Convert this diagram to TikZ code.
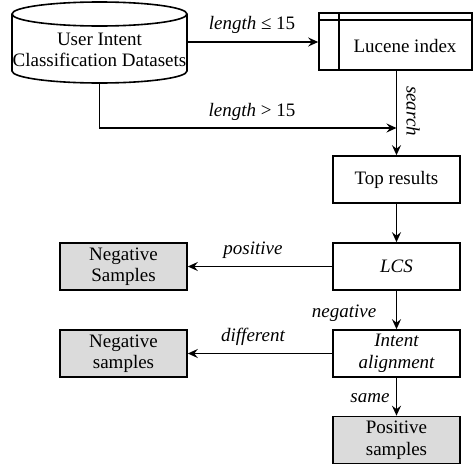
\documentclass[tikz,border=0pt]{standalone}
\usepackage{fontspec}
\setmainfont{Liberation Serif}
\usetikzlibrary{arrows.meta}
\begin{document}
\begin{tikzpicture}[x=1pt,y=-1pt,
  every node/.style={font=\fontsize{19}{21.5}\selectfont},
  line/.style={line width=1.6pt},
  arr/.style={line width=1.6pt,-{Stealth[length=10pt,width=9pt,inset=3.5pt]}},
  box/.style={draw,line width=1.6pt,minimum width=127pt,minimum height=47pt,inner sep=1pt,align=center},
  graybox/.style={box,fill=black!14},
  lbl/.style={inner sep=1pt,font=\fontsize{19}{21.5}\selectfont\itshape}]
\useasboundingbox (0,0) rectangle (474,474);
% cylinder
\draw[line] (99.5,14) ellipse[x radius=87.5,y radius=12];
\draw[line] (12,14) -- (12,71) arc[start angle=180,end angle=0,x radius=87.5,y radius=12] -- (187,14);
\node[align=center,inner sep=0] (db) at (99.5,50) {User Intent\\Classification Datasets};
\coordinate (dbR) at (187,42);
\coordinate (dbB) at (99.5,83);
% lucene
\node[draw,line width=1.6pt,minimum width=153pt,minimum height=57pt,inner sep=0] (lucene) at (395.5,41.5) {};
\draw[line] (319,20) -- (472,20);
\draw[line] (339,13) -- (339,70);
\node (lucenetext) at (405,46) {Lucene index};
% boxes
\node[box] (top) at (396.5,179.5) {Top results};
\node[box] (lcs) at (396.5,266.5) {\itshape LCS};
\node[graybox] (neg1) at (123.5,266.5) {Negative\\Samples};
\node[box] (intent) at (396.5,353.5) {\itshape Intent\\\itshape alignment};
\node[graybox] (neg2) at (123.5,353.5) {Negative\\samples};
\node[graybox] (pos) at (396.5,440) {Positive\\samples};
% connectors
\draw[arr] (dbR) -- (dbR -| lucene.west);
\node[lbl] (l1) at (252,25) {length\upshape\ ≤ 15};
\coordinate (j) at (top.north |- 0,128);
\draw[arr] (dbB) |- (j);
\node[lbl] (l2) at (252,112) {length\upshape\ > 15};
\draw[arr] (top.north |- lucene.south) -- (top.north);
\node[lbl,rotate=-90] (ls) at (413,111) {search};
\draw[arr] (top) -- (lcs);
\draw[arr] (lcs) -- (neg1);
\node[lbl] (lp) at (253,250) {positive};
\draw[arr] (lcs) -- (intent);
\node[lbl] (ln) at (344,313) {negative};
\draw[arr] (intent) -- (neg2);
\node[lbl] (ld) at (253,337) {different};
\draw[arr] (intent) -- (pos);
\node[lbl] (lsame) at (370,398) {same};
\end{tikzpicture}
\end{document}
